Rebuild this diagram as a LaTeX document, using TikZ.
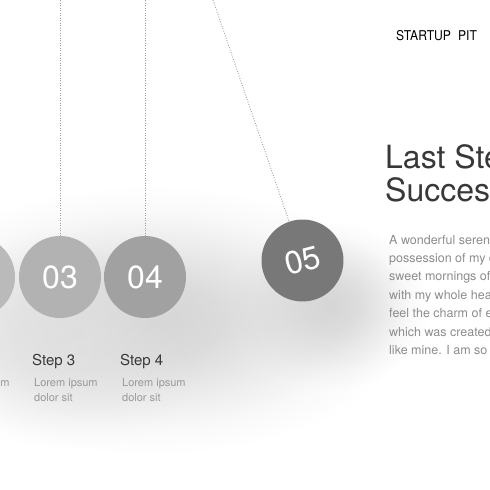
\documentclass[tikz,border=0pt]{standalone}
\usepackage{fontspec}
\setmainfont{TeX Gyre Heros}
\usetikzlibrary{fadings}

% smooth glow: white = opaque, black = see-through
\pgfdeclareradialshading{glowshading}{\pgfpointorigin}{
	color(0bp)=(black!15); color(7bp)=(black!30); color(14bp)=(black!62);
	color(20bp)=(black!88); color(25bp)=(black); color(50bp)=(black)}
\pgfdeclarefading{glowfade}{\pgfuseshading{glowshading}}

\begin{document}
\begin{tikzpicture}[
		x=1pt, y=-1pt,
		ball/.style={circle, minimum size=82pt, inner sep=0pt, text=white, font=\fontsize{32}{32}\selectfont},
		rope/.style={black!38, line width=0.9pt, dash pattern=on 0.9pt off 1.6pt},
		steplabel/.style={anchor=base west, inner sep=0pt, text=black!78, font=\fontsize{15}{15}\selectfont},
		smalltext/.style={anchor=base west, inner sep=0pt, text=black!40, font=\fontsize{11}{11}\selectfont},
		bodytext/.style={anchor=base west, inner sep=0pt, text=black!45, font=\fontsize{12.5}{12.5}\selectfont},
		titletext/.style={anchor=base west, inner sep=0pt, text=black!78, font=\fontsize{32}{32}\selectfont}
	]
	\useasboundingbox (0,0) rectangle (490,490);
	\clip (0,0) rectangle (490,490);

	% soft shadow behind the balls
	\fill[black!20, path fading=glowfade] (150,320) ellipse (260 and 135);
	\fill[black!12, path fading=glowfade] (60,340) ellipse (150 and 110);
	\fill[black!18, path fading=glowfade] (330,305) ellipse (100 and 85);

	% balls
	\node[ball, fill=black!27] (c2) at (-26,277) {};
	\node[ball, fill=black!30] (c3) at (60,277) {03};
	\node[ball, fill=black!37] (c4) at (145,277) {04};
	\node[ball, fill=black!53, rotate=15] (c5) at (302.5,260.5) {05};

	% ropes
	\coordinate (top3) at (60,0);
	\coordinate (top4) at (145,0);
	\coordinate (top5) at (213,0);
	\draw[rope] (top3) -- (c3);
	\draw[rope] (top4) -- (c4);
	\draw[rope] (top5) -- (c5);

	% step labels
	\node[smalltext] (lorem2) at (-54,386) {Lorem ipsum};
	\node[steplabel] (step3) at (32,365) {Step 3};
	\node[smalltext] (lorem3) at (34,386) {Lorem ipsum};
	\node[smalltext] (dolor3) at (34,401) {dolor sit};
	\node[steplabel] (step4) at (120,365) {Step 4};
	\node[smalltext] (lorem4) at (122,386) {Lorem ipsum};
	\node[smalltext] (dolor4) at (122,401) {dolor sit};

	% right side
	\node[anchor=base west, inner sep=0pt, xscale=0.9, font=\fontsize{13.5}{13.5}\selectfont] (header) at (396,40) {STARTUP\hspace{0.3em} PIT};
	\node[titletext] (title1) at (385,168) {Last Step to};
	\node[titletext] (title2) at (385,201) {Success};
	\foreach \txt [count=\i from 0] in {
			{A wonderful serenity has taken},
			{possession of my entire soul,},
			{sweet mornings of spring which I enjoy},
			{with my whole heart. I am alone, and},
			{feel the charm of existence in this spot,},
			{which was created for the bliss of souls},
			{like mine. I am so happy, my dear friend}}
		\node[bodytext] (body\i) at (389,244+18.4*\i) {\txt};
\end{tikzpicture}
\end{document}
